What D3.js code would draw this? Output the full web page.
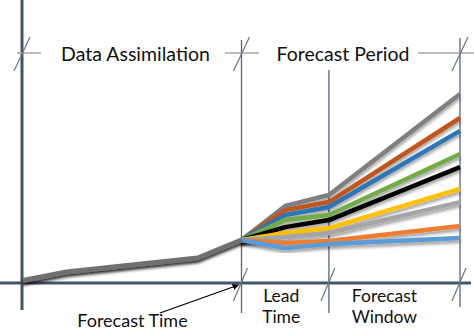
<!DOCTYPE html>
<html><head><meta charset="utf-8">
<script src="https://cdn.jsdelivr.net/npm/d3@7"></script>
<style>html,body{margin:0;padding:0;background:#fff;}svg{display:block;}</style>
</head><body>
<svg id="c" width="474" height="330"></svg>
<script>
// ---- data ----
const histX = [0, 1, 4, 5];
const histY = [1, 4.5, 10.3, 17.7];
const ensX = [5, 6, 7, 10];
const memberNames = ["m1","m2","m3","m4","m5","m6","m7","m8","m9"];
const memberColors = ["#7f7f7f","#c0561c","#2e75b6","#70ad47","#000000","#ffc000","#a5a5a5","#ed7d31","#5b9bd5"];
const memberValues = [
  [17.7, 31.7, 36.2, 77.8],
  [17.7, 30.0, 33.3, 67.9],
  [17.7, 28.0, 31.3, 62.6],
  [17.7, 25.9, 28.0, 53.1],
  [17.7, 23.0, 25.9, 47.7],
  [17.7, 20.6, 22.6, 38.7],
  [17.7, 18.9, 20.6, 33.3],
  [17.7, 16.5, 17.3, 23.5],
  [17.7, 14.4, 16.0, 18.5]
];
const periodLabels = ["Data Assimilation", "Forecast Period"];
const bottomLabels = [["Lead","Time"],["Forecast","Window"]];
const markers = [0, 5, 7, 10];   // x positions of boundaries
const arrowLabel = "Forecast Time";

// ---- scales ----
const svg = d3.select("#c");
const x = d3.scaleLinear().domain([0, 10]).range([23, 460]);
const y = d3.scaleLinear().domain([0, 100]).range([283, 40]);
const axisCol = "#44546a";

const defs = svg.append("defs");
const f = defs.append("filter").attr("id","sh").attr("x","-10%").attr("y","-30%").attr("width","130%").attr("height","180%");
f.append("feDropShadow").attr("dx",0).attr("dy",3).attr("stdDeviation",1.8).attr("flood-color","#000").attr("flood-opacity",0.35);
const f2 = defs.append("filter").attr("id","sh2").attr("x","-10%").attr("y","-50%").attr("width","130%").attr("height","200%");
f2.append("feDropShadow").attr("dx",0).attr("dy",2.5).attr("stdDeviation",1.5).attr("flood-color","#000").attr("flood-opacity",0.85);
defs.append("marker").attr("id","ah").attr("viewBox","0 0 10 10").attr("refX",9).attr("refY",5)
  .attr("markerWidth",5).attr("markerHeight",5).attr("orient","auto")
  .append("path").attr("d","M0,0L10,5L0,10z").attr("fill","#000");

// ---- main axes ----
svg.append("line").attr("x1",0).attr("x2",471).attr("y1",y(0)).attr("y2",y(0))
  .attr("stroke",axisCol).attr("stroke-width",3);
svg.append("line").attr("x1",x(0)-1).attr("x2",x(0)-1).attr("y1",0).attr("y2",310)
  .attr("stroke",axisCol).attr("stroke-width",3);

// boundary verticals
const vTop = {5:40, 7:70, 10:38};
const vBot = {5:313, 7:313, 10:307};
[5,7,10].forEach(m => {
  svg.append("line").attr("x1",x(m)).attr("x2",x(m)).attr("y1",vTop[m]).attr("y2",vBot[m])
    .attr("stroke","#556580").attr("stroke-width",1.3);
});

// top dimension line segments
const topY = 53;
[[17,41],[225,259],[418,474]].forEach(s => {
  svg.append("line").attr("x1",s[0]).attr("x2",s[1]).attr("y1",topY).attr("y2",topY)
    .attr("stroke","#a6a6a6").attr("stroke-width",1.5);
});
// slashes
[0,5,10].forEach(m => {
  const cx = m===0 ? x(0)-1 : x(m);
  svg.append("line").attr("x1",cx-8).attr("x2",cx+8).attr("y1",topY+18).attr("y2",topY-16)
    .attr("stroke","#6b7585").attr("stroke-width",1.2);
});
[5,7,10].forEach(m => {
  svg.append("line").attr("x1",x(m)-8).attr("x2",x(m)+6).attr("y1",y(0)+18).attr("y2",y(0)-15)
    .attr("stroke","#6b7585").attr("stroke-width",1.2);
});

// ---- data lines ----
const line = d3.line().x(d => x(d[0])).y(d => y(d[1]));
const gE = svg.append("g");
memberValues.forEach((vals, i) => {
  gE.append("path").datum(ensX.map((xx,j)=>[xx, vals[j]]))
    .attr("d", line).attr("fill","none").attr("stroke",memberColors[i])
    .attr("stroke-width",4.5).attr("stroke-linejoin","round").attr("filter","url(#sh)");
});
svg.append("path").datum(histX.map((xx,j)=>[xx, histY[j]]))
  .attr("d", line).attr("fill","none").attr("stroke","#6f6f6f")
  .attr("stroke-width",5).attr("stroke-linejoin","round").attr("filter","url(#sh2)");

// ---- text ----
const font = "Lato, 'Open Sans', sans-serif";
svg.append("text").attr("x",135.5).attr("y",61).attr("text-anchor","middle")
  .attr("font-family",font).attr("font-size",19.5).attr("fill","#111").text(periodLabels[0]);
svg.append("text").attr("x",343).attr("y",61).attr("text-anchor","middle")
  .attr("font-family",font).attr("font-size",19.5).attr("fill","#111").text(periodLabels[1]);

const bx = [(x(5)+x(7))/2 - 4, (x(7)+x(10))/2 - 10];
bottomLabels.forEach((lbl, i) => {
  lbl.forEach((t, j) => {
    svg.append("text").attr("x",bx[i]).attr("y",302 + j*21).attr("text-anchor","middle")
      .attr("font-family",font).attr("font-size",17.5).attr("fill","#111").text(t);
  });
});

svg.append("text").attr("x",132.5).attr("y",327).attr("text-anchor","middle")
  .attr("font-family",font).attr("font-size",18).attr("fill","#111").text(arrowLabel);
svg.append("line").attr("x1",160).attr("y1",313).attr("x2",x(5)-3).attr("y2",y(0)+2)
  .attr("stroke","#000").attr("stroke-width",1.3).attr("marker-end","url(#ah)");
</script>
</body></html>
